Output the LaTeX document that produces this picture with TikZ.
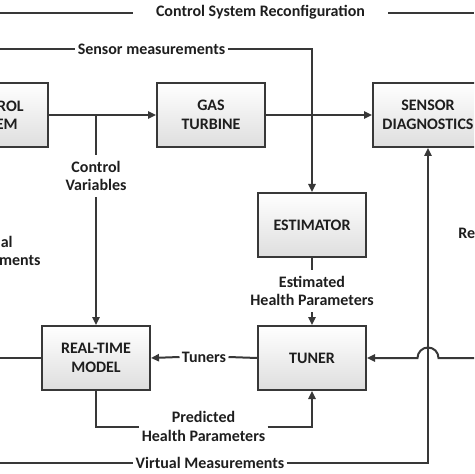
\documentclass[tikz,border=0pt]{standalone}
\usepackage{fontspec}
\setmainfont{Carlito}
\usetikzlibrary{arrows.meta}
\definecolor{ln}{HTML}{383838}
\definecolor{tx}{HTML}{1E1E1E}
\tikzset{
  boxnode/.style={draw=ln, line width=1pt, top color=white, bottom color=black!13,
    minimum width=54pt, minimum height=32pt, inner sep=1pt, align=center,
    text=tx, font=\fontsize{8}{9.2}\selectfont\bfseries},
  lbl/.style={text=tx, align=center, inner sep=1pt,
    font=\fontsize{8}{9.4}\selectfont\bfseries},
  conn/.style={draw=ln, line width=1pt},
  arr/.style={conn, -{Triangle[length=4pt,width=3.6pt]}}
}
\begin{document}
\begin{tikzpicture}[x=0.5pt,y=-0.5pt]
\useasboundingbox (0,0) rectangle (474,474);
\clip (0,0) rectangle (474,474);
% boxes
\node[boxnode] (ctrl) at (-6,115) {};
\node[boxnode] (gt) at (211,115) {GAS\\TURBINE};
\node[boxnode, minimum width=55pt] (sd) at (428,115) {SENSOR\\DIAGNOSTICS};
\node[boxnode] (est) at (312,225) {ESTIMATOR};
\node[boxnode] (tuner) at (312,358) {TUNER};
\node[boxnode] (rtm) at (96,358) {REAL-TIME\\MODEL};
% fragments of cut texts
\node[lbl, anchor=east] (ctrlA) at (26,106) {ROL};
\node[lbl, anchor=east] (ctrlB) at (20,124) {EM};
\node[lbl, anchor=east] (vmA) at (15,242) {ual};
\node[lbl, anchor=east] (vmB) at (43,261) {ments};
\node[lbl, anchor=west] (re) at (456,233) {Re};
% title
\node[lbl, inner xsep=11.5pt] (title) at (260.5,12) {Control System Reconfiguration};
\coordinate (tL) at (0,13);
\coordinate (tR) at (474,13);
\draw[conn] (tL) -- (title.west |- tL);
\draw[conn] (title.east |- tR) -- (tR);
% sensor measurements
\coordinate (smL) at (0,49);
\node[lbl] (sm) at (151.5,49) {Sensor measurements};
\draw[conn] (smL) -- (sm.west);
\draw[arr] (sm.east) -| (est.north);
% main flow
\draw[arr] (ctrl.east) -- (gt.west);
\draw[arr] (gt.east) -- (sd.west);
% control variables
\coordinate (cvb) at (96,115);
\node[lbl, inner ysep=3pt] (cv) at (96,176) {Control\\Variables};
\draw[conn] (cvb) -- (cv.north);
\draw[arr] (cv.south) -- (rtm.north);
% estimated health parameters
\node[lbl, inner ysep=3pt] (ehp) at (312,291) {Estimated\\Health Parameters};
\draw[conn] (est.south) -- (ehp.north);
\draw[arr] (ehp.south) -- (tuner.north);
% tuners
\node[lbl] (tn) at (204,357) {Tuners};
\draw[conn] (tuner.west) -- (tn.east);
\draw[arr] (tn.west) -- (rtm.east);
% predicted health parameters
\node[lbl] (php) at (203.5,426.5) {Predicted\\Health Parameters};
\draw[conn] (rtm.south) |- (php.west);
\draw[arr] (php.east) -| (tuner.south);
% virtual measurements
\coordinate (vmL) at (0,463);
\node[lbl] (vm) at (210,463) {Virtual Measurements};
\draw[conn] (vmL) -- (vm.west);
\draw[arr] (vm.east) -| (sd.south);
% left line into model
\coordinate (lL) at (0,358);
\draw[conn] (lL) -- (rtm.west);
% right line with hop into tuner
\coordinate (rR) at (480,358);
\draw[arr] (rR) -- (438.5,358) arc[start angle=0, end angle=-180, radius=10.5] -- (tuner.east);
\end{tikzpicture}
\end{document}
